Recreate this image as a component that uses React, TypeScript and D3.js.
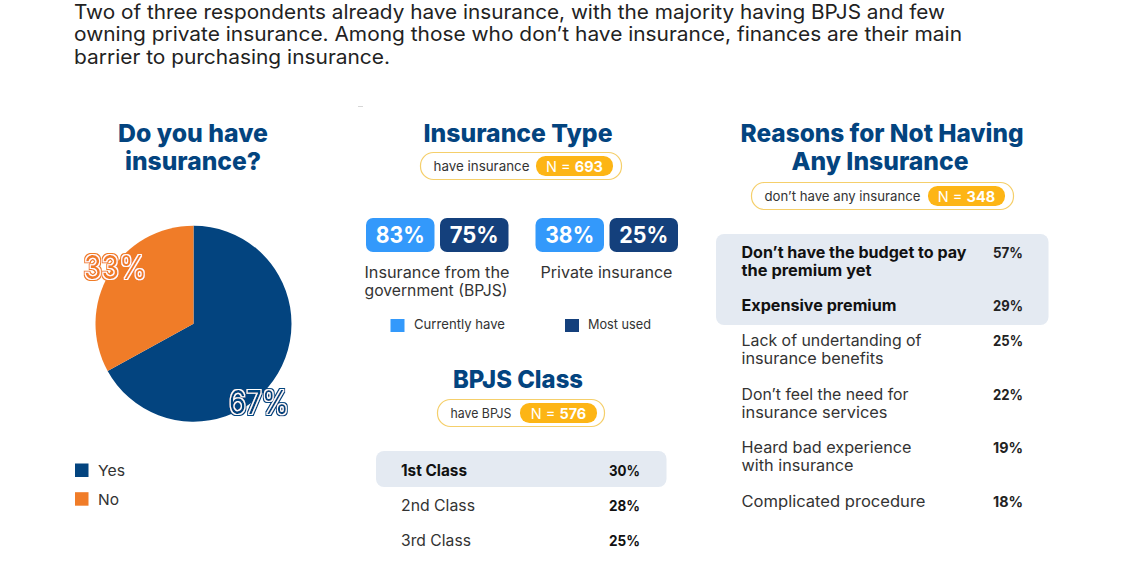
import { useEffect, useRef } from 'react';
import * as d3 from 'd3';

// Chart values
const introLines = [
  'Two of three respondents already have insurance, with the majority having BPJS and few',
  'owning private insurance. Among those who don’t have insurance, finances are their main',
  'barrier to purchasing insurance.',
];

const pieLabels = ['Yes', 'No'];
const pieValues = [67, 33];

const typeNames = [['Insurance from the', 'government (BPJS)'], ['Private insurance']];
const typeCurrently = [83, 38];
const typeMostUsed = [75, 25];

const classNames = ['1st Class', '2nd Class', '3rd Class'];
const classValues = [30, 28, 25];

const reasonNames = [
  ['Don’t have the budget to pay', 'the premium yet'],
  ['Expensive premium'],
  ['Lack of undertanding of', 'insurance benefits'],
  ['Don’t feel the need for', 'insurance services'],
  ['Heard bad experience', 'with insurance'],
  ['Complicated procedure'],
];
const reasonValues = [57, 29, 25, 22, 19, 18];

const NAVY = '#03447f';
const ORANGE = '#f07c28';
const BLUE = '#3399fb';
const DARK = '#14407c';
const AMBER = '#fdb515';
const PANEL = '#e4eaf2';
const INK = '#2a2a2a';
const FONT = 'Inter, "Noto Sans", sans-serif';

export default function App() {
  const svgRef = useRef<SVGSVGElement>(null);

  useEffect(() => {
    if (!svgRef.current) return;
    const svg = d3.select(svgRef.current);
    svg.selectAll('*').remove();

    const text = (
      x: number, y: number, s: string, size: number,
      opts: { weight?: number; fill?: string; anchor?: string; len?: number } = {},
    ) => {
      const t = svg.append('text')
        .attr('x', x)
        .attr('y', y)
        .attr('font-family', FONT)
        .attr('font-size', size)
        .attr('font-weight', opts.weight ?? 400)
        .attr('fill', opts.fill ?? INK)
        .attr('text-anchor', opts.anchor ?? 'start')
        .text(s);
      if (opts.len) t.attr('textLength', opts.len).attr('lengthAdjust', 'spacingAndGlyphs');
      return t;
    };

    // Double outline for the pie labels, done as a filter so each label stays one text
    const defs = svg.append('defs');
    const outlineFilter = (id: string, color: string) => {
      const f = defs.append('filter')
        .attr('id', id)
        .attr('x', '-10%').attr('y', '-20%').attr('width', '120%').attr('height', '140%');
      f.append('feMorphology')
        .attr('in', 'SourceAlpha').attr('operator', 'dilate').attr('radius', 1.9).attr('result', 'outer');
      f.append('feFlood').attr('flood-color', color).attr('result', 'c');
      f.append('feComposite')
        .attr('in', 'c').attr('in2', 'outer').attr('operator', 'in').attr('result', 'ring');
      f.append('feMorphology')
        .attr('in', 'SourceAlpha').attr('operator', 'dilate').attr('radius', 1).attr('result', 'inner');
      f.append('feFlood').attr('flood-color', '#fff').attr('result', 'w');
      f.append('feComposite')
        .attr('in', 'w').attr('in2', 'inner').attr('operator', 'in').attr('result', 'white');
      const m = f.append('feMerge');
      m.append('feMergeNode').attr('in', 'ring');
      m.append('feMergeNode').attr('in', 'white');
      m.append('feMergeNode').attr('in', 'SourceGraphic');
    };
    outlineFilter('outline-orange', ORANGE);
    outlineFilter('outline-navy', NAVY);

    // Intro paragraph
    const introLens = [871, 888, 316];
    introLines.forEach((l, i) => {
      text(74, 18.7 + i * 22.7, l, 20, { len: introLens[i], fill: '#222' });
    });

    // Small stray mark above the middle column
    svg.append('line')
      .attr('x1', 358).attr('x2', 363).attr('y1', 106.5).attr('y2', 106.5)
      .attr('stroke', '#ccc').attr('stroke-width', 0.8);

    // Pie
    const pieGroup = svg.append('g').attr('transform', 'translate(193.5,323.7)');
    const pie = d3.pie<number>().sort(null)(pieValues);
    const arc = d3.arc<d3.PieArcDatum<number>>().innerRadius(0).outerRadius(98);
    pieGroup.selectAll('path')
      .data(pie)
      .enter()
      .append('path')
      .attr('d', arc)
      .attr('fill', (_, i) => (i === 0 ? NAVY : ORANGE));

    // Outlined pie labels
    text(84, 279, `${pieValues[1]}%`, 33, { weight: 400, fill: ORANGE, len: 63 })
      .attr('filter', 'url(#outline-orange)');
    text(229, 414, `${pieValues[0]}%`, 33, { weight: 400, fill: NAVY, len: 60 })
      .attr('filter', 'url(#outline-navy)');

    // Titles
    const title = (cx: number, y: number, s: string, len: number) =>
      text(cx, y, s, 25, { weight: 800, fill: NAVY, anchor: 'middle', len });
    title(193, 142, 'Do you have', 150);
    title(193, 170, 'insurance?', 136);
    title(518, 141.5, 'Insurance Type', 189);
    title(518, 388, 'BPJS Class', 130);
    title(882, 141.5, 'Reasons for Not Having', 283);
    title(880, 170, 'Any Insurance', 177);

    // Pie legend
    pieLabels.forEach((l, i) => {
      svg.append('rect')
        .attr('x', 75)
        .attr('y', 463.5 + i * 28.7)
        .attr('width', 13.5)
        .attr('height', 13.5)
        .attr('fill', i === 0 ? NAVY : ORANGE);
      text(98, 476 + i * 28.7, l, 15, { fill: '#333', len: i === 0 ? 27 : 21 });
    });

    // "N =" pills
    const pill = (
      x: number, y: number, w: number, label: string, labelLen: number,
      n: number, tagX: number,
    ) => {
      svg.append('rect')
        .attr('x', x).attr('y', y).attr('width', w).attr('height', 27).attr('rx', 13)
        .attr('fill', '#fff')
        .attr('stroke', '#f5cf6b')
        .attr('stroke-width', 1.2);
      svg.append('rect')
        .attr('x', tagX).attr('y', y + 3.5).attr('width', 77).attr('height', 20).attr('rx', 9.5)
        .attr('fill', AMBER);
      text(x + 13, y + 18.5, label, 13.5, { len: labelLen, fill: '#333' });
      const t = text(tagX + 38.5, y + 19, 'N = ', 14.5, { anchor: 'middle', fill: '#fff' });
      t.append('tspan').attr('font-weight', 700).text(`${n}`);
    };
    pill(420.5, 152.5, 201, 'have insurance', 96, 693, 536);
    pill(437.5, 399.5, 167, 'have BPJS', 61, 576, 520);
    pill(751.5, 182.5, 262, 'don’t have any insurance', 156, 348, 928);

    // Insurance type badges
    const badgeX = d3.scalePoint<number>().domain([0, 1]).range([366, 535.5]);
    typeNames.forEach((names, i) => {
      const x0 = badgeX(i)!;
      [typeCurrently[i], typeMostUsed[i]].forEach((v, j) => {
        const x = x0 + j * 74;
        svg.append('rect')
          .attr('x', x).attr('y', 218).attr('width', 68.5).attr('height', 34).attr('rx', 7)
          .attr('fill', j === 0 ? BLUE : DARK);
        text(x + 34.2, 243, `${v}%`, 23, { weight: 700, fill: '#fff', anchor: 'middle', len: 49 });
      });
      names.forEach((n, k) => {
        text(i === 0 ? 364.5 : 540.5, 278 + k * 18, n, 15.5, {
          fill: '#333',
          len: i === 0 ? (k === 0 ? 145 : 143) : 132,
        });
      });
    });

    // Insurance type legend
    [['Currently have', 390.5, 414, BLUE, 91], ['Most used', 565, 588, DARK, 63]].forEach((d) => {
      const [label, bx, tx, fill, len] = d as [string, number, number, string, number];
      svg.append('rect')
        .attr('x', bx).attr('y', 319).attr('width', 14).attr('height', 13).attr('fill', fill);
      text(tx, 329, label, 13.5, { fill: '#333', len });
    });

    // BPJS class table
    svg.append('rect')
      .attr('x', 376).attr('y', 451).attr('width', 290.5).attr('height', 36).attr('rx', 8)
      .attr('fill', PANEL);
    const classY = d3.scalePoint<string>().domain(classNames).range([475.5, 545.7]);
    classNames.forEach((c, i) => {
      const y = classY(c)!;
      text(401, y, c, 15.5, {
        weight: i === 0 ? 700 : 400,
        fill: i === 0 ? '#111' : '#333',
        len: i === 0 ? 66 : i === 1 ? 74 : 70,
      });
      text(609, y, `${classValues[i]}%`, 15, { weight: 700, fill: '#111', len: 31 });
    });

    // Reasons table
    svg.append('rect')
      .attr('x', 716).attr('y', 234).attr('width', 332.5).attr('height', 91).attr('rx', 8)
      .attr('fill', PANEL);
    const reasonY = [258, 311, 346, 400, 453, 507];
    const reasonLens = [[225, 130], [155], [180, 142], [167, 146], [170, 112], [184]];
    reasonNames.forEach((lines, i) => {
      const bold = i < 2;
      lines.forEach((l, k) => {
        text(741.5, reasonY[i] + k * 18, l, 15.5, {
          weight: bold ? 700 : 400,
          fill: bold ? '#111' : '#333',
          len: reasonLens[i][k],
        });
      });
      text(993, reasonY[i], `${reasonValues[i]}%`, 14.5, { weight: 700, fill: '#222', len: 30 });
    });
  }, []);

  return (
    <svg
      ref={svgRef}
      width={1140}
      height={570}
      style={{ position: 'absolute', left: 0, top: 0, background: '#fff' }}
    />
  );
}
